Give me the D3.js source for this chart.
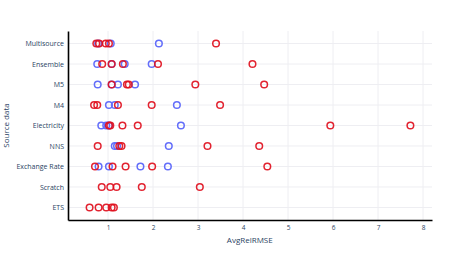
<!DOCTYPE html>
<html>
<head>
<meta charset="utf-8">
<script src="https://cdn.jsdelivr.net/npm/d3@7"></script>
<style>
  body { margin: 0; background: #fff; }
  text { font-family: "Open Sans", "DejaVu Sans", sans-serif; fill: #2a3f5f; }
</style>
</head>
<body>
<svg id="chart" width="474" height="263"></svg>
<script>
const categories = ["Multisource", "Ensemble", "M5", "M4", "Electricity", "NNS", "Exchange Rate", "Scratch", "ETS"];

// red markers, per category
const redValues = [
  [0.74, 0.8, 0.95, 1.02, 3.4],
  [0.87, 1.08, 1.33, 2.11, 4.21],
  [1.08, 1.42, 1.46, 2.94, 4.47],
  [0.69, 0.76, 1.22, 1.97, 3.49],
  [1.02, 1.05, 1.32, 1.66, 5.94, 7.72],
  [0.77, 1.25, 1.3, 3.21, 4.36],
  [0.71, 1.1, 1.39, 1.98, 4.54],
  [0.86, 1.05, 1.19, 1.75, 3.04],
  [0.59, 0.79, 0.96, 1.08, 1.13]
];

// blue markers, per category
const blueValues = [
  [0.78, 1.06, 2.13],
  [0.76, 1.08, 1.37, 1.97],
  [0.77, 1.08, 1.22, 1.6],
  [1.02, 1.15, 2.53],
  [0.85, 0.96, 1.02, 2.62],
  [1.15, 1.2, 2.35],
  [0.79, 1.02, 1.72, 2.33],
  [],
  []
];

const xTicks = [1, 2, 3, 4, 5, 6, 7, 8];

const svg = d3.select("#chart");
const margin = { top: 31, right: 42, bottom: 43, left: 68 };
const width = +svg.attr("width");
const height = +svg.attr("height");
const chartWidth = width - margin.left - margin.right;
const chartHeight = height - margin.top - margin.bottom;

const xScale = d3.scaleLinear().domain([0.11, 8.2]).range([0, chartWidth]);
const yScale = d3.scalePoint().domain(categories).range([0, chartHeight]).padding(0.61);

const g = svg.append("g").attr("transform", `translate(${margin.left},${margin.top})`);

// gridlines
g.append("g")
  .selectAll("line")
  .data(xTicks)
  .join("line")
  .attr("x1", (d) => xScale(d))
  .attr("x2", (d) => xScale(d))
  .attr("y1", 0)
  .attr("y2", chartHeight)
  .attr("stroke", "#eeeef2")
  .attr("stroke-width", 1);

g.append("g")
  .selectAll("line")
  .data(categories)
  .join("line")
  .attr("x1", 0)
  .attr("x2", chartWidth)
  .attr("y1", (d) => yScale(d))
  .attr("y2", (d) => yScale(d))
  .attr("stroke", "#eeeef2")
  .attr("stroke-width", 1);

// axes
const xAxis = d3.axisBottom(xScale).tickValues(xTicks).tickSize(0).tickPadding(5).tickFormat(d3.format("d"));
const xg = g.append("g").attr("transform", `translate(0,${chartHeight})`).call(xAxis);
xg.select(".domain").attr("stroke", "#000").attr("stroke-width", 1.6);
xg.selectAll("text").style("font-size", "6.5px").attr("fill", "#2a3f5f");

const yAxis = d3.axisLeft(yScale).tickSize(0).tickPadding(4);
const yg = g.append("g").call(yAxis);
yg.select(".domain").attr("stroke", "#000").attr("stroke-width", 1.6);
yg.selectAll("text").style("font-size", "7px").attr("fill", "#2a3f5f");

// points
const flatten = (arr) => arr.flatMap((vals, i) => vals.map((v) => ({ cat: categories[i], v })));

g.append("g")
  .selectAll("circle")
  .data(flatten(blueValues))
  .join("circle")
  .attr("cx", (d) => xScale(d.v))
  .attr("cy", (d) => yScale(d.cat))
  .attr("r", 3.3)
  .attr("fill", "none")
  .attr("stroke", "#636efa")
  .attr("stroke-width", 1.5);

g.append("g")
  .selectAll("circle")
  .data(flatten(redValues))
  .join("circle")
  .attr("cx", (d) => xScale(d.v))
  .attr("cy", (d) => yScale(d.cat))
  .attr("r", 3.3)
  .attr("fill", "none")
  .attr("stroke", "#e0101e")
  .attr("stroke-width", 1.5)
  .attr("stroke-opacity", 0.92);

// axis titles
svg.append("text")
  .attr("x", margin.left + xScale(4.15))
  .attr("y", 243)
  .attr("text-anchor", "middle")
  .style("font-size", "8px")
  .text("AvgRelRMSE");

svg.append("text")
  .attr("transform", "rotate(-90)")
  .attr("x", -(margin.top + chartHeight / 2))
  .attr("y", 9)
  .attr("text-anchor", "middle")
  .style("font-size", "8px")
  .text("Source data");
</script>
</body>
</html>
